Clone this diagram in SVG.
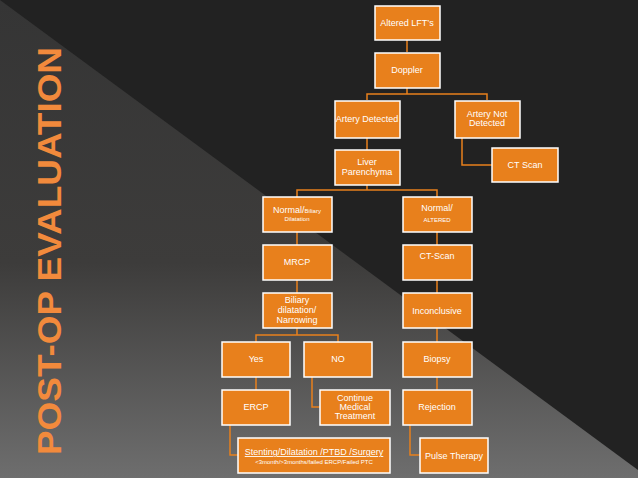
<svg xmlns="http://www.w3.org/2000/svg" width="638" height="478" viewBox="0 0 638 478">
<defs>
<linearGradient id="bg" x1="0" y1="0" x2="0" y2="1"><stop offset="0" stop-color="#353535"/><stop offset="0.55" stop-color="#3d3c3b"/><stop offset="1" stop-color="#6e6e6e"/></linearGradient>
<style>
.b{fill:#e8801c;stroke:#fff;stroke-width:1.5}
.t{font-family:"Liberation Sans",Arial,sans-serif;font-size:9px;fill:#fff;text-anchor:middle}
.s{font-size:6px}
#conn path{fill:none;stroke:#e8801c;stroke-width:1.5}
</style>
</defs>
<rect width="638" height="478" fill="url(#bg)"/>
<polygon points="0,0 638,0 638,470" fill="#222"/>
<text transform="translate(61,251) rotate(-90)" font-family="Liberation Sans,Arial,sans-serif" font-weight="bold" font-size="33" fill="#f28a3c" text-anchor="middle" textLength="408" lengthAdjust="spacingAndGlyphs">POST-OP EVALUATION</text>
<g id="conn">
<path d="M407,40V52M407,88V94H367V100M407,94H487V100"/>
<path d="M462,138V165H492M367,138V150M367,185V190H297V197M367,190H437V197"/>
<path d="M297,232V245M297,280V293M297,328V335H256V342M297,335H338V342"/>
<path d="M437,232V245M437,280V293M437,328V342M437,377V390"/>
<path d="M256,377V390M230,425V455H238M312,377V407H320M410,425V455H420"/>
</g>
<g id="n1"><rect class="b" x="375" y="6" width="65" height="34"/><text class="t" x="407" y="26">Altered LFT’s</text></g>
<g id="n2"><rect class="b" x="375" y="53" width="65" height="35"/><text class="t" x="407" y="73">Doppler</text></g>
<g id="n3"><rect class="b" x="335" y="101" width="65" height="37"/><text class="t" x="367" y="122">Artery Detected</text></g>
<g id="n4"><rect class="b" x="455" y="101" width="65" height="37"/><text class="t" x="487" y="117">Artery Not</text><text class="t" x="487" y="126">Detected</text></g>
<g id="n5"><rect class="b" x="492" y="148" width="66" height="34"/><text class="t" x="525" y="168">CT Scan</text></g>
<g id="n6"><rect class="b" x="335" y="150" width="65" height="35"/><text class="t" x="367" y="165">Liver</text><text class="t" x="367" y="175">Parenchyma</text></g>
<g id="n7"><rect class="b" x="263" y="197" width="69" height="35"/><text class="t" x="297" y="213">Normal/<tspan class="s">Biliary</tspan></text><text class="t s" x="297" y="221">Dilatation</text></g>
<g id="n8"><rect class="b" x="403" y="197" width="69" height="35"/><text class="t" x="437" y="211">Normal/</text><text class="t s" x="437" y="222">ALTERED</text></g>
<g id="n9"><rect class="b" x="263" y="245" width="69" height="35"/><text class="t" x="297" y="265">MRCP</text></g>
<g id="n10"><rect class="b" x="403" y="245" width="69" height="35"/><text class="t" x="437" y="259">CT-Scan</text></g>
<g id="n11"><rect class="b" x="263" y="293" width="69" height="35"/><text class="t" x="297" y="303">Biliary</text><text class="t" x="297" y="313">dilatation/</text><text class="t" x="297" y="323">Narrowing</text></g>
<g id="n12"><rect class="b" x="403" y="293" width="69" height="35"/><text class="t" x="437" y="314">Inconclusive</text></g>
<g id="n13"><rect class="b" x="222" y="342" width="68" height="35"/><text class="t" x="256" y="362">Yes</text></g>
<g id="n14"><rect class="b" x="304" y="342" width="68" height="35"/><text class="t" x="338" y="362">NO</text></g>
<g id="n15"><rect class="b" x="403" y="342" width="69" height="35"/><text class="t" x="437" y="362">Biopsy</text></g>
<g id="n16"><rect class="b" x="222" y="390" width="68" height="35"/><text class="t" x="256" y="410">ERCP</text></g>
<g id="n17"><rect class="b" x="320" y="390" width="70" height="35"/><text class="t" x="355" y="401">Continue</text><text class="t" x="355" y="410">Medical</text><text class="t" x="355" y="419">Treatment</text></g>
<g id="n18"><rect class="b" x="403" y="390" width="69" height="35"/><text class="t" x="437" y="410">Rejection</text></g>
<g id="n19"><rect class="b" x="238" y="438" width="152" height="35"/><text class="t" x="314" y="455" font-size="7.5" text-decoration="underline">Stenting/Dilatation /PTBD /Surgery</text><text class="t s" x="314" y="464" font-size="5">&lt;3month/&gt;3months/failed ERCP/Failed PTC</text></g>
<g id="n20"><rect class="b" x="420" y="438" width="68" height="35"/><text class="t" x="454" y="459">Pulse Therapy</text></g>
</svg>
